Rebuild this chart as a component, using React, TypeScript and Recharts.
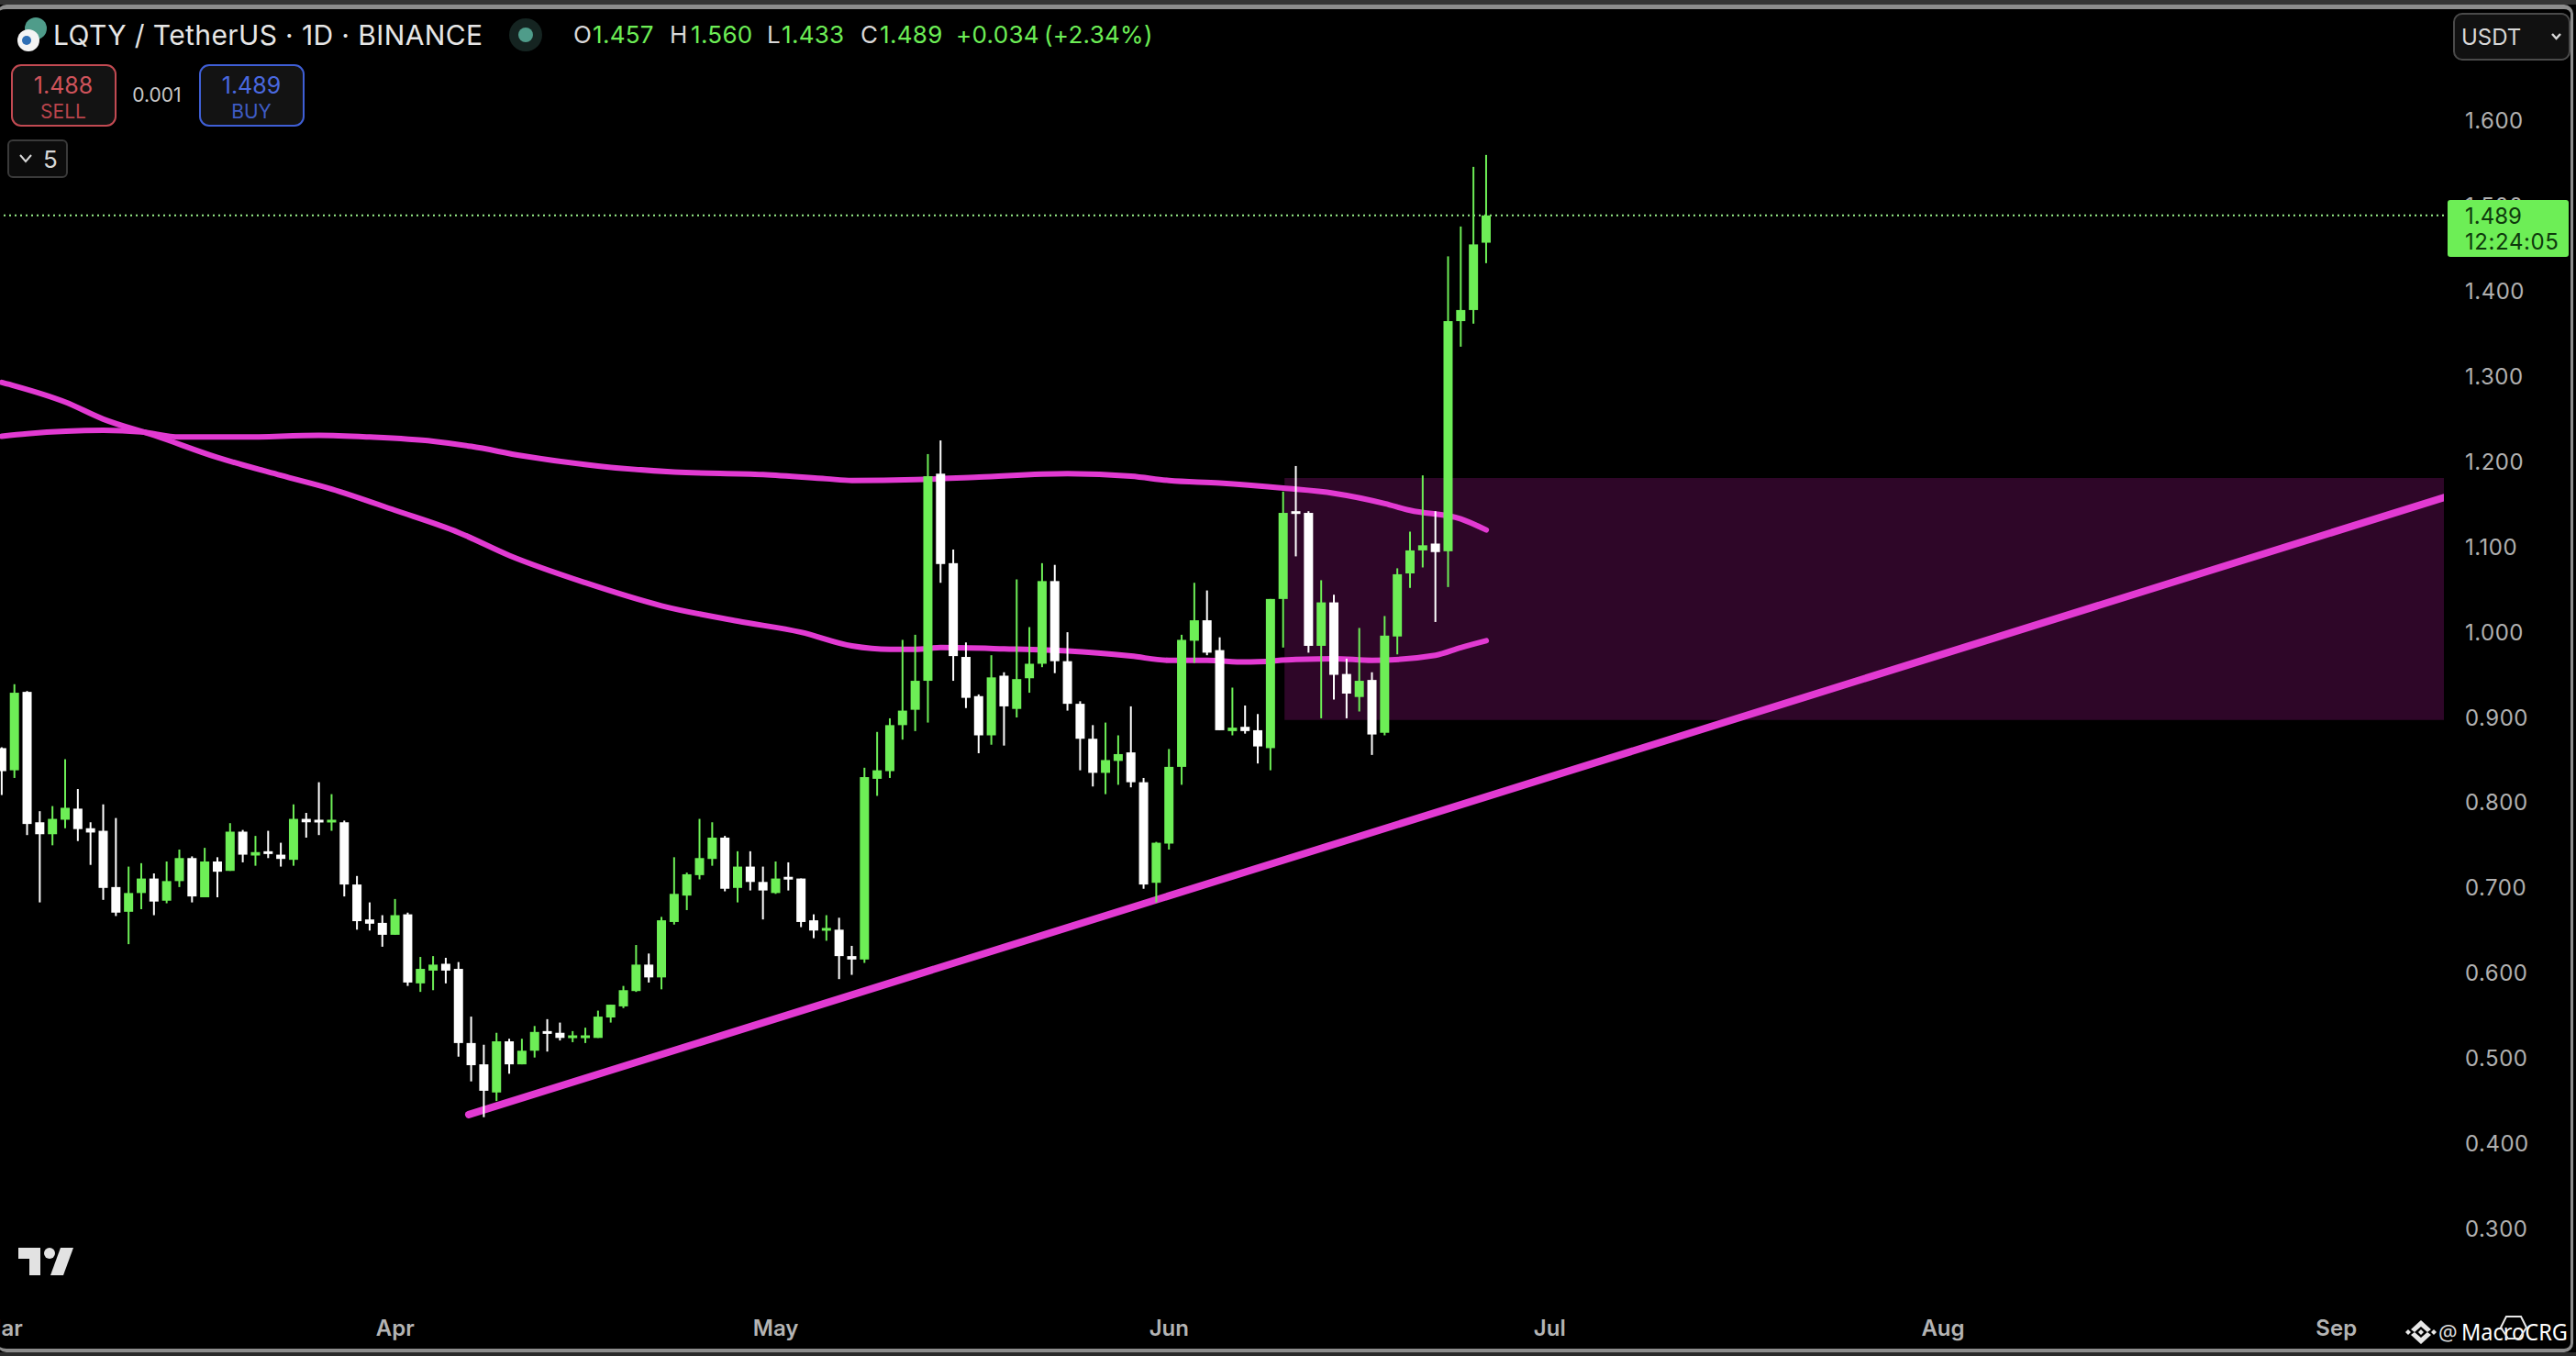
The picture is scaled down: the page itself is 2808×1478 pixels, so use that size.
import React from 'react';
import { ComposedChart, Bar, Line, XAxis, YAxis, ReferenceArea, ReferenceLine } from 'recharts';

// Daily candles, index 0 = 1 Mar
const opens = [
  0.864, 0.838, 0.930, 0.777, 0.763, 0.780, 0.793, 0.770, 0.767, 0.701, 0.672, 0.694, 0.711, 0.685, 0.708, 0.735, 0.689, 0.731, 0.720, 0.766,
  0.738, 0.743, 0.739, 0.733, 0.781, 0.780, 0.778, 0.777, 0.704, 0.663, 0.659, 0.645, 0.669, 0.588, 0.603, 0.611, 0.605, 0.518, 0.493, 0.460,
  0.520, 0.493, 0.509, 0.532, 0.530, 0.525, 0.525, 0.524, 0.548, 0.561, 0.579, 0.610, 0.595, 0.660, 0.691, 0.715, 0.734, 0.759, 0.700, 0.725,
  0.707, 0.694, 0.713, 0.711, 0.662, 0.651, 0.651, 0.620, 0.616, 0.828, 0.837, 0.891, 0.909, 0.943, 1.186, 1.081, 0.971, 0.925, 0.879, 0.949,
  0.910, 0.946, 0.963, 1.060, 0.966, 0.916, 0.875, 0.835, 0.849, 0.859, 0.824, 0.706, 0.752, 0.842, 0.990, 1.014, 0.979, 0.884, 0.889, 0.885,
  0.864, 1.039, 1.142, 1.140, 0.984, 1.035, 0.951, 0.924, 0.944, 0.882, 0.995, 1.069, 1.096, 1.104, 1.095, 1.365, 1.378, 1.457,
];
const highs = [
  0.865, 0.939, 0.931, 0.790, 0.796, 0.851, 0.816, 0.777, 0.798, 0.782, 0.725, 0.729, 0.717, 0.731, 0.745, 0.737, 0.747, 0.736, 0.776, 0.768,
  0.761, 0.767, 0.753, 0.798, 0.788, 0.824, 0.810, 0.779, 0.714, 0.683, 0.668, 0.687, 0.671, 0.619, 0.620, 0.618, 0.613, 0.549, 0.516, 0.530,
  0.523, 0.523, 0.538, 0.546, 0.542, 0.532, 0.536, 0.556, 0.563, 0.585, 0.633, 0.623, 0.666, 0.736, 0.718, 0.781, 0.777, 0.761, 0.743, 0.743,
  0.725, 0.731, 0.730, 0.711, 0.669, 0.668, 0.665, 0.632, 0.841, 0.883, 0.899, 0.991, 0.997, 1.209, 1.225, 1.097, 0.988, 0.927, 0.973, 0.953,
  1.062, 1.006, 1.081, 1.079, 1.000, 0.919, 0.891, 0.894, 0.879, 0.913, 0.829, 0.754, 0.863, 0.997, 1.058, 1.049, 0.994, 0.935, 0.914, 0.904,
  1.039, 1.165, 1.195, 1.142, 1.061, 1.044, 0.969, 1.005, 0.953, 1.019, 1.075, 1.118, 1.184, 1.142, 1.441, 1.476, 1.546, 1.560,
];
const lows = [
  0.809, 0.829, 0.762, 0.683, 0.750, 0.770, 0.755, 0.727, 0.686, 0.667, 0.634, 0.675, 0.668, 0.682, 0.701, 0.683, 0.689, 0.689, 0.720, 0.730,
  0.726, 0.735, 0.725, 0.726, 0.759, 0.762, 0.767, 0.690, 0.651, 0.650, 0.631, 0.645, 0.585, 0.578, 0.580, 0.588, 0.502, 0.473, 0.431, 0.450,
  0.482, 0.493, 0.501, 0.508, 0.521, 0.519, 0.518, 0.524, 0.542, 0.559, 0.578, 0.589, 0.581, 0.657, 0.674, 0.710, 0.726, 0.696, 0.683, 0.697,
  0.663, 0.693, 0.697, 0.654, 0.641, 0.638, 0.593, 0.598, 0.612, 0.808, 0.829, 0.874, 0.884, 0.894, 1.058, 0.943, 0.911, 0.858, 0.868, 0.867,
  0.900, 0.929, 0.959, 0.952, 0.908, 0.838, 0.819, 0.810, 0.821, 0.818, 0.699, 0.683, 0.745, 0.821, 0.964, 0.973, 0.885, 0.879, 0.881, 0.846,
  0.838, 0.982, 1.089, 0.976, 0.899, 0.921, 0.899, 0.907, 0.856, 0.879, 0.974, 1.052, 1.076, 1.012, 1.053, 1.335, 1.362, 1.433,
];
const closes = [
  0.837, 0.929, 0.775, 0.763, 0.781, 0.794, 0.769, 0.765, 0.700, 0.671, 0.694, 0.711, 0.684, 0.708, 0.735, 0.690, 0.731, 0.719, 0.766, 0.739,
  0.742, 0.741, 0.734, 0.781, 0.777, 0.778, 0.780, 0.704, 0.661, 0.658, 0.645, 0.668, 0.589, 0.605, 0.610, 0.603, 0.518, 0.492, 0.462, 0.520,
  0.493, 0.509, 0.531, 0.530, 0.524, 0.527, 0.527, 0.549, 0.563, 0.580, 0.610, 0.595, 0.662, 0.693, 0.716, 0.735, 0.759, 0.699, 0.725, 0.707,
  0.697, 0.711, 0.711, 0.660, 0.650, 0.653, 0.620, 0.616, 0.830, 0.838, 0.891, 0.908, 0.943, 1.183, 1.080, 0.972, 0.923, 0.879, 0.947, 0.913,
  0.945, 0.963, 1.060, 0.966, 0.916, 0.875, 0.835, 0.850, 0.857, 0.824, 0.704, 0.753, 0.842, 0.991, 1.014, 0.976, 0.885, 0.888, 0.884, 0.866,
  1.039, 1.140, 1.140, 0.984, 1.035, 0.950, 0.928, 0.943, 0.880, 0.996, 1.068, 1.096, 1.102, 1.094, 1.365, 1.378, 1.455, 1.489,
];

// Moving averages, read at the days listed
const fallingMaDays = [0, 1, 5, 8, 12, 17, 22, 26, 31, 36, 40, 46, 52, 58, 63, 67, 70, 72, 74, 79, 84, 89, 92, 95, 98, 102, 105, 108, 113, 115, 117];
const fallingMaValues = [1.293, 1.289, 1.27, 1.25, 1.231, 1.205, 1.184, 1.168, 1.143, 1.117, 1.09, 1.058, 1.031, 1.013, 1.0, 0.984, 0.98, 0.98, 0.982, 0.9805, 0.978, 0.972, 0.967, 0.967, 0.965, 0.968, 0.969, 0.967, 0.973, 0.982, 0.99];
const flatMaDays = [0, 2, 8, 11, 14, 19, 25, 29, 34, 37, 41, 47, 53, 60, 65, 67, 72, 77, 84, 89, 92, 96, 101, 105, 109, 111, 115, 117];
const flatMaValues = [1.23, 1.233, 1.237, 1.235, 1.229, 1.229, 1.231, 1.229, 1.224, 1.218, 1.207, 1.195, 1.188, 1.185, 1.18, 1.178, 1.179, 1.182, 1.186, 1.183, 1.178, 1.175, 1.169, 1.163, 1.151, 1.143, 1.133, 1.12];

const trendDays = [36.8, 192.48];
const trendValues = [0.434, 1.158];

const zoneDays = [101.1, 192.48];
const zonePrices = [0.897, 1.181];

const priceTicks = [0.3, 0.4, 0.5, 0.6, 0.7, 0.8, 0.9, 1.0, 1.1, 1.2, 1.3, 1.4, 1.5, 1.6];
const monthTicks = [0, 31, 61, 92, 122, 153, 184];
const monthLabels = ['Mar', 'Apr', 'May', 'Jun', 'Jul', 'Aug', 'Sep'];
const lastPrice = 1.489;

const GREEN = '#6dee56';
const PINK = '#e23ad2';
const BODY_WIDTH = 10;

const candles = opens.map((open, i) => ({
  day: i,
  open,
  close: closes[i],
  high: highs[i],
  low: lows[i],
  range: [lows[i], highs[i]],
}));
const toPoints = (days: number[], values: number[]) => days.map((day, i) => ({ day, value: values[i] }));

const Candle = (props: any) => {
  const { x, y, width, height, payload } = props;
  const { open, close, high, low } = payload;
  const color = close >= open ? GREEN : '#ffffff';
  const mid = x + width / 2;
  const perUnit = height / (high - low);
  const bodyTop = y + (high - Math.max(open, close)) * perUnit;
  const bodyHeight = Math.max(Math.abs(open - close) * perUnit, 3);
  return (
    <g>
      <rect x={mid - 1} y={y} width={2} height={height} fill={color} />
      <rect x={mid - BODY_WIDTH / 2} y={bodyTop} width={BODY_WIDTH} height={bodyHeight} fill={color} />
    </g>
  );
};

const UI = 'Inter, sans-serif';

const Header = () => (
  <svg width={2808} height={1478} style={{ position: 'absolute', left: 0, top: 0, pointerEvents: 'none' }} fontFamily={UI}>
    {/* symbol logo */}
    <circle cx={39} cy={31} r={12} fill="#4f9c8a" />
    <circle cx={31} cy={44} r={12} fill="#f4f4f4" />
    <circle cx={29} cy={44} r={5} fill="#2f6fb5" />
    <text x={58} y={49} fontSize={30} letterSpacing={0.38} fill="#e6e6e6">LQTY / TetherUS · 1D · BINANCE</text>
    <circle cx={573} cy={38} r={18} fill="#152421" />
    <circle cx={573} cy={38} r={8} fill="#4f9c8a" />

    <g fontSize={26} letterSpacing={0.3}>
      <text x={625} y={47} fill="#d8d8d8">O</text>
      <text x={646} y={47} fill={GREEN}>1.457</text>
      <text x={730} y={47} fill="#d8d8d8">H</text>
      <text x={753} y={47} fill={GREEN}>1.560</text>
      <text x={836} y={47} fill="#d8d8d8">L</text>
      <text x={852} y={47} fill={GREEN}>1.433</text>
      <text x={938} y={47} fill="#d8d8d8">C</text>
      <text x={959} y={47} fill={GREEN}>1.489</text>
      <text x={1042} y={47} fill={GREEN}>+0.034</text>
      <text x={1138} y={47} fill={GREEN}>(+2.34%)</text>
    </g>

    <rect x={13} y={71} width={113} height={66} rx={10} fill="#131313" stroke="#c24a52" strokeWidth={2} />
    <text x={69} y={102} textAnchor="middle" fontSize={25} fill="#d0535b">1.488</text>
    <text x={69} y={129} textAnchor="middle" fontSize={21} fill="#b9444c">SELL</text>
    <text x={171} y={111} textAnchor="middle" fontSize={21} fill="#c8c8c8">0.001</text>
    <rect x={218} y={71} width={113} height={66} rx={10} fill="#131313" stroke="#3f5fd6" strokeWidth={2} />
    <text x={274} y={102} textAnchor="middle" fontSize={25} fill="#4a69e0">1.489</text>
    <text x={274} y={129} textAnchor="middle" fontSize={21} fill="#3f5cc4">BUY</text>

    <rect x={9} y={153} width={64} height={40} rx={5} fill="#0c0c0c" stroke="#3a3a3a" strokeWidth={2} />
    <path d="M22 169 L28 176 L34 169" fill="none" stroke="#d8d8d8" strokeWidth={2} />
    <text x={47} y={183} fontSize={26} fill="#d8d8d8">5</text>

    {/* currency box */}
    <rect x={2675} y={15} width={126} height={50} rx={9} fill="#111111" stroke="#4a4a4a" strokeWidth={2} />
    <text x={2683} y={49} fontSize={24} fill="#d8d8d8">USDT</text>
    <path d="M2782 37 L2786.5 42 L2791 37" fill="none" stroke="#d8d8d8" strokeWidth={2.5} />

    {/* last price tag */}
    <rect x={2668} y={218} width={132} height={62} rx={3} fill={GREEN} />
    <text x={2687} y={244} fontSize={24} fill="#0e3a0c">1.489</text>
    <text x={2687} y={272} fontSize={24} fill="#0e3a0c" letterSpacing={0.6}>12:24:05</text>

    {/* tradingview mark */}
    <g fill="#e2e2e2">
      <path d="M20 1360 H44 V1390 H32 V1372 H20 Z" />
      <circle cx={54} cy={1366} r={6} />
      <path d="M66 1360 H80 L69 1390 H55 Z" />
    </g>

    {/* watermark */}
    <g fill="#e8e8e8">
      <path d="M2639 1439 L2650 1449 L2646 1452 L2639 1446 L2632 1452 L2628 1449 Z" />
      <path d="M2639 1465 L2650 1455 L2646 1452 L2639 1458 L2632 1452 L2628 1455 Z" />
      <path d="M2639 1449 L2642 1452 L2639 1455 L2636 1452 Z" />
      <path d="M2625 1449 L2628 1452 L2625 1455 L2622 1452 Z" />
      <path d="M2653 1449 L2656 1452 L2653 1455 L2650 1452 Z" />
    </g>
    <text x={2658} y={1461} fontSize={23} fill="#dcdcdc" fontFamily="'Noto Sans', sans-serif">@</text>
    <text x={2683} y={1461} fontSize={26} textLength={116} lengthAdjust="spacingAndGlyphs" fill="#ffffff" fontFamily="'Noto Sans', sans-serif">MacroCRG</text>
    <path d="M2732 1435 H2748 L2754 1447 L2746 1459 H2734 L2726 1447 Z" fill="none" stroke="#e8e8e8" strokeWidth={2} />
  </svg>
);

const Frame = () => (
  <>
    <div style={{ position: 'absolute', left: 0, top: 0, width: 2808, height: 5, background: '#343434' }} />
    <div style={{ position: 'absolute', left: 0, top: 1474, width: 2808, height: 4, background: '#2a2a2a' }} />
    <div
      style={{
        position: 'absolute',
        left: -3,
        top: 5,
        width: 2808,
        height: 1469,
        boxSizing: 'border-box',
        borderTop: '5px solid #8c8c8c',
        borderBottom: '4px solid #8c8c8c',
        borderRight: '3px solid #8c8c8c',
        borderRadius: 10,
        pointerEvents: 'none',
      }}
    />
  </>
);

export default function App() {
  return (
    <div style={{ position: 'absolute', left: 0, top: 0, width: 2808, height: 1478, background: '#000', overflow: 'hidden' }}>
      <ComposedChart width={2808} height={1478} data={candles} margin={{ top: 0, right: 0, bottom: 0, left: 0 }}>
        <XAxis
          dataKey="day"
          type="number"
          domain={[-0.1446, 192.48]}
          allowDataOverflow
          ticks={monthTicks}
          interval={0}
          tickFormatter={(d: number) => monthLabels[monthTicks.indexOf(d)]}
          axisLine={false}
          tickLine={false}
          tickSize={0}
          tickMargin={19}
          height={58}
          tick={{ fill: '#b4b4b4', fontSize: 24, fontWeight: 600, fontFamily: UI }}
        />
        <YAxis
          orientation="right"
          type="number"
          domain={[0.21324, 1.74176]}
          allowDataOverflow
          ticks={priceTicks}
          interval={0}
          tickFormatter={(v: number) => v.toFixed(3)}
          axisLine={false}
          tickLine={false}
          tickSize={0}
          tickMargin={23}
          width={144}
          tick={{ fill: '#b0b0b0', fontSize: 24, fontFamily: UI, letterSpacing: 0.5 }}
        />
        <ReferenceArea x1={zoneDays[0]} x2={zoneDays[1]} y1={zonePrices[0]} y2={zonePrices[1]} fill="#2e0628" fillOpacity={1} stroke="none" />
        <ReferenceLine y={lastPrice} stroke="#9af08a" strokeWidth={2} strokeDasharray="2 4" />
        <Line data={toPoints(flatMaDays, flatMaValues)} dataKey="value" type="monotone" stroke={PINK} strokeWidth={6} dot={false} isAnimationActive={false} strokeLinecap="round" />
        <Line data={toPoints(fallingMaDays, fallingMaValues)} dataKey="value" type="monotone" stroke={PINK} strokeWidth={6} dot={false} isAnimationActive={false} strokeLinecap="round" />
        <Line data={toPoints(trendDays, trendValues)} dataKey="value" type="linear" stroke={PINK} strokeWidth={8} dot={false} isAnimationActive={false} strokeLinecap="round" />
        <Bar dataKey="range" barSize={10} shape={Candle} isAnimationActive={false} zIndex={700} />
      </ComposedChart>
      <Header />
      <Frame />
    </div>
  );
}
